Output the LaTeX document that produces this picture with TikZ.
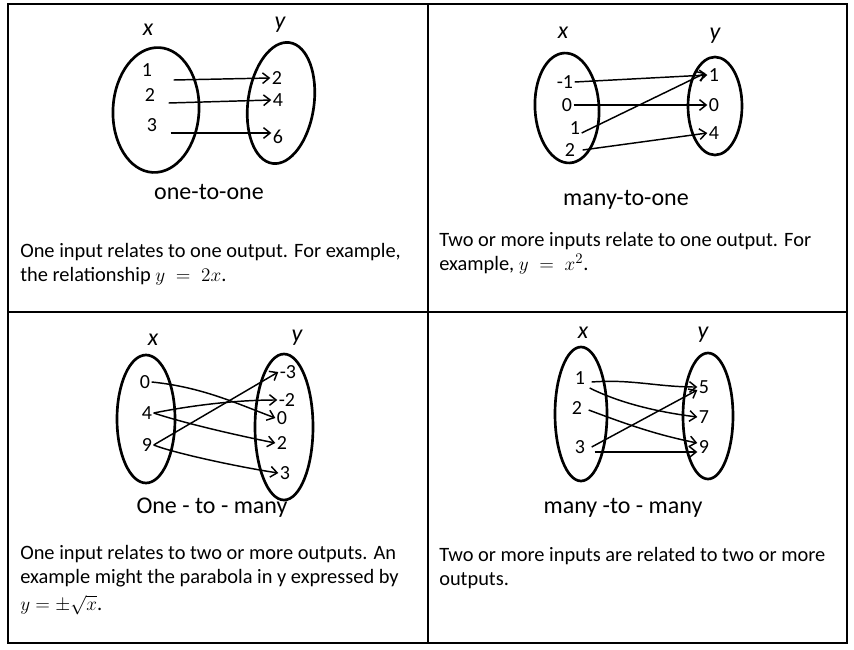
\documentclass[tikz,border=0pt]{standalone}
\usepackage{fontspec}
\setmainfont{Carlito}
\usetikzlibrary{arrows.meta,shapes.geometric}
\begin{document}
\begin{tikzpicture}[x=0.75pt,y=-0.75pt,
  setov/.style={draw,ellipse,line width=2pt,inner sep=0pt},
  num/.style={font=\fontsize{15}{15}\selectfont,inner sep=1pt},
  var/.style={font=\fontsize{18}{18}\selectfont\itshape,inner sep=0pt},
  hand/.style={font=\fontsize{18}{18}\selectfont,inner sep=0pt},
  map/.style={line width=1.1pt,-{Straight Barb[length=5pt,width=8pt]}},
  desc/.style={anchor=base west,align=left,font=\fontsize{15.3}{18}\selectfont,inner sep=0pt},
  grid/.style={line width=0.8pt}]
\fill[white] (0,0) rectangle (854,650);
\useasboundingbox (0,0) rectangle (854,650);
\draw[grid] (8,4) rectangle (847,643);
\draw[grid] (428,4) -- (428,643);
\draw[grid] (8,312) -- (847,312);

% ---------- one-to-one ----------
\node[setov,minimum width=64.5pt,minimum height=93.75pt,rotate=-3] (e1L) at (156,110) {};
\node[setov,minimum width=49.5pt,minimum height=91.5pt,rotate=-8] (e1R) at (281,103) {};
\node[var] (x1) at (148,30) {x};
\node[var] (y1) at (280,25) {y};
\node[num] (a1) at (147,70) {1};
\node[num] (a2) at (150,95) {2};
\node[num] (a3) at (152,125) {3};
\node[num] (b1) at (277,78) {2};
\node[num] (b2) at (278,100) {4};
\node[num] (b3) at (278,137) {6};
\draw[map] ([shift={(20,10)}]a1.east) -- (b1.west);
\draw[map] ([shift={(12,8)}]a2.east) -- (b2.west);
\draw[map] ([shift={(12,8)}]a3.east) -- ([shift={(0,-4)}]b3.west);
\node[hand] (c1) at (209,192) {one-to-one};

% ---------- many-to-one ----------
\node[setov,minimum width=48pt,minimum height=82.5pt,rotate=3] (e2L) at (567,108) {};
\node[setov,minimum width=40.5pt,minimum height=73.5pt] (e2R) at (715,106) {};
\node[var] (x2) at (563,33) {x};
\node[var] (y2) at (715,36) {y};
\node[num] (m1) at (565,82) {-1};
\node[num] (m2) at (567,105) {0};
\node[num] (m3) at (575,128) {1};
\node[num] (m4) at (570,150) {2};
\node[num] (n1) at (714,75) {1};
\node[num] (n2) at (714,105) {0};
\node[num] (n3) at (714,133) {4};
\draw[map] (m1.east) -- (n1.west);
\draw[map] (m2.east) -- (n2.west);
\draw[map] ([shift={(0,5)}]m3.east) -- ([shift={(-2,-2)}]n1.west);
\draw[map] ([shift={(6,0)}]m4.east) -- (n3.west);
\node[hand] (c2) at (626,200) {many-to-one};

% ---------- one-to-many ----------
\node[setov,minimum width=43.5pt,minimum height=96pt] (e3L) at (146,419) {};
\node[setov,minimum width=43.5pt,minimum height=109.5pt] (e3R) at (284,427) {};
\node[var] (x3) at (153,340) {x};
\node[var] (y3) at (297,338) {y};
\node[num] (p1) at (145,382) {0};
\node[num] (p2) at (147,413) {4};
\node[num] (p3) at (147,445) {9};
\node[num] (q1) at (288,372) {-3};
\node[num] (q2) at (287,400) {-2};
\node[num] (q3) at (282,418) {0};
\node[num] (q4) at (282,443) {2};
\node[num] (q5) at (285,473) {3};
\draw[map] (p1.east) .. controls +(50,5) and +(-40,-15) .. (q3.west);
\draw[map] (p2.east) .. controls +(40,-8) and +(-40,0) .. (q2.west);
\draw[map] (p2.east) .. controls +(30,10) and +(-40,-8) .. (q4.west);
\draw[map] (p3.east) -- (q1.west);
\draw[map] (p3.east) .. controls +(20,8) and +(-40,-6) .. (q5.west);
\node[hand] (c3) at (212,508) {One - to - many};

% ---------- many-to-many ----------
\node[setov,minimum width=39pt,minimum height=100.5pt] (e4L) at (581,414) {};
\node[setov,minimum width=37.5pt,minimum height=94.5pt] (e4R) at (708,416) {};
\node[var] (x4) at (583,333) {x};
\node[var] (y4) at (703,335) {y};
\node[num] (r1) at (580,378) {1};
\node[num] (r2) at (577,408) {2};
\node[num] (r3) at (580,447) {3};
\node[num] (s1) at (704,387) {5};
\node[num] (s2) at (704,417) {7};
\node[num] (s3) at (704,447) {9};
\draw[map] ([shift={(5,4)}]r1.east) .. controls +(40,-3) and +(-40,0) .. (s1.west);
\draw[map] ([shift={(3,10)}]r1.east) .. controls +(30,15) and +(-40,-5) .. (s2.west);
\draw[map] ([shift={(5,2)}]r2.east) .. controls +(40,15) and +(-40,-8) .. ([shift={(0,-4)}]s3.west);
\draw[map] ([shift={(5,0)}]r3.east) -- ([shift={(0,3)}]s1.west);
\draw[map] ([shift={(8,5)}]r3.east) -- ([shift={(0,5)}]s3.west);
\node[hand] (c4) at (623,508) {many -to - many};

% ---------- descriptions ----------
\node[desc] (t1) at (20,281) {One input relates to one output. For example,\\the relationship $y\;=\;2x$.};
\node[desc] (t2) at (439,270) {Two or more inputs relate to one output. For\\example, $y\;=\;x^2$.};
\node[desc] (t3) at (20,610) {One input relates to two or more outputs. An\\example might the parabola in y expressed by\\[2.25pt]$y=\pm\sqrt{x}$.};
\node[desc] (t4) at (439,585) {Two or more inputs are related to two or more\\outputs.};
\end{tikzpicture}
\end{document}
